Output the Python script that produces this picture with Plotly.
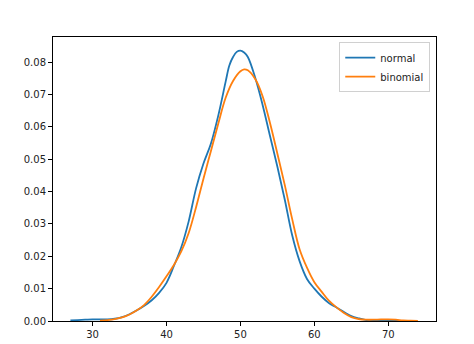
import plotly.graph_objects as go

# KDE curve samples
normal_x = [27, 28, 29, 30, 31, 32, 33, 34, 35, 36, 37, 38, 39, 40, 41, 42, 43, 44, 45, 46,
            47, 48, 48.5, 49, 49.5, 50, 50.5, 51, 52, 53, 54, 55, 56, 57, 58, 59, 60, 61, 62,
            63, 64, 65, 66, 67, 68, 69, 70, 71, 72, 73]
normal_y = [0.0002, 0.0003, 0.0004, 0.0005, 0.0005, 0.0005, 0.0007, 0.0012, 0.0021, 0.0033,
            0.0047, 0.0064, 0.0087, 0.0118, 0.0170, 0.0228, 0.0308, 0.0410, 0.0487, 0.0548,
            0.0635, 0.0740, 0.0790, 0.0816, 0.0832, 0.0836, 0.0830, 0.0816, 0.0752, 0.0668,
            0.0572, 0.0477, 0.0375, 0.0265, 0.0185, 0.0130, 0.0100, 0.0075, 0.0055, 0.0042,
            0.0028, 0.0015, 0.0008, 0.0003, 0.0002, 0.0001, 0.0001, 0.0001, 0.0000, 0.0000]

binomial_x = [31, 32, 33, 34, 35, 36, 37, 38, 39, 40, 41, 42, 43, 44, 45, 46, 47, 48, 49, 50,
              50.5, 51, 52, 53, 54, 55, 56, 57, 58, 59, 60, 61, 62, 63, 64, 65, 66, 67, 68,
              69, 70, 71, 72, 73, 74]
binomial_y = [0.0001, 0.0003, 0.0006, 0.0011, 0.0020, 0.0033, 0.0050, 0.0075, 0.0105, 0.0138,
              0.0173, 0.0215, 0.0272, 0.0352, 0.0440, 0.0525, 0.0610, 0.0690, 0.0742, 0.0772,
              0.0778, 0.0775, 0.0748, 0.0695, 0.0612, 0.0517, 0.0420, 0.0315, 0.0222, 0.0165,
              0.0120, 0.0090, 0.0062, 0.0042, 0.0025, 0.0012, 0.0006, 0.0004, 0.0004, 0.0005,
              0.0005, 0.0004, 0.0002, 0.0001, 0.0000]

x_ticks = [30, 40, 50, 60, 70]
y_ticks = [0.00, 0.01, 0.02, 0.03, 0.04, 0.05, 0.06, 0.07, 0.08]

fig = go.Figure()
fig.add_trace(go.Scatter(x=normal_x, y=normal_y, mode="lines", name="normal",
                         line=dict(color="#1f77b4", width=1.8, shape="spline", smoothing=1.0)))
fig.add_trace(go.Scatter(x=binomial_x, y=binomial_y, mode="lines", name="binomial",
                         line=dict(color="#ff7f0e", width=1.8, shape="spline", smoothing=1.0)))

axis_common = dict(showline=True, linecolor="black", linewidth=1, mirror=True,
                   ticks="outside", ticklen=4, tickwidth=1, tickcolor="black",
                   showgrid=False, zeroline=False, automargin=False)

fig.update_xaxes(range=[24.65, 76.45], tickvals=x_ticks, ticktext=[str(v) for v in x_ticks],
                 **axis_common)
fig.update_yaxes(range=[0, 0.0878], tickvals=y_ticks, ticktext=[f"{v:.2f}" for v in y_ticks],
                 **axis_common)

fig.update_layout(
    width=474, height=344,
    margin=dict(l=53, r=38, t=37, b=23),
    paper_bgcolor="white", plot_bgcolor="white",
    font=dict(family="DejaVu Sans", size=10, color="#222"),
    legend=dict(x=0.985, y=0.982, xanchor="right", yanchor="top",
                bgcolor="rgba(255,255,255,0.8)", bordercolor="#d0d0d0", borderwidth=1,
                font=dict(size=10), itemwidth=30, tracegroupgap=0),
    showlegend=True,
)

fig.write_html("out.html")
